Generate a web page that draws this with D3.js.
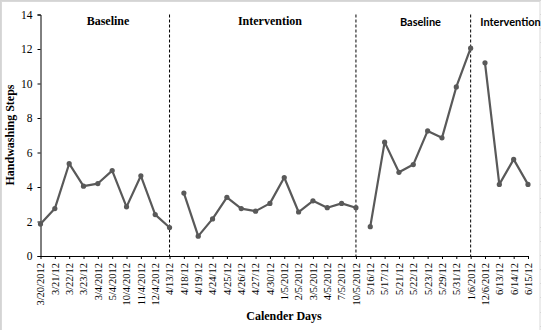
<!DOCTYPE html>
<html><head><meta charset="utf-8">
<script src="https://cdn.jsdelivr.net/npm/d3@7"></script>
<style>body{margin:0;background:#fff}svg{display:block}</style>
</head><body>
<svg id="c" width="541" height="330"></svg>
<script>
const categories = ["3/20/2012","3/21/12","3/22/12","3/23/12","3/4/2012","5/4/2012","10/4/2012","11/4/2012","12/4/2012","4/13/12",
  "4/18/12","4/19/12","4/24/12","4/25/12","4/26/12","4/27/12","4/30/12","1/5/2012","2/5/2012","3/5/2012","4/5/2012","7/5/2012","10/5/2012",
  "5/16/12","5/17/12","5/21/12","5/22/12","5/23/12","5/29/12","5/31/12","1/6/2012",
  "12/6/2012","6/13/12","6/14/12","6/15/12"];
const values = [1.85,2.75,5.35,4.05,4.2,4.95,2.85,4.65,2.4,1.65,
  3.65,1.15,2.15,3.4,2.75,2.6,3.05,4.55,2.55,3.2,2.8,3.05,2.8,
  1.7,6.6,4.85,5.3,7.25,6.85,9.8,12.05,
  11.2,4.15,5.6,4.15];
const phaseNames = ["Baseline","Intervention","Baseline","Intervention"];
const phaseStarts = ["3/20/2012","4/18/12","5/16/12","12/6/2012"];
const phaseEnds = ["4/13/12","10/5/2012","1/6/2012","6/15/12"];
const yTicks = [0,2,4,6,8,10,12,14];

const svg = d3.select("#c");
// spreadsheet grid behind chart
const grid = svg.append("g").attr("stroke","#d4d4d4").attr("stroke-width",1);
d3.range(0,12).forEach(k=>grid.append("line").attr("x1",k*45+0.5).attr("x2",k*45+0.5).attr("y1",0).attr("y2",330));
d3.range(0,25).forEach(k=>grid.append("line").attr("x1",0).attr("x2",541).attr("y1",Math.round(k*14.16)+0.5).attr("y2",Math.round(k*14.16)+0.5));
svg.append("rect").attr("x",1.5).attr("y",1.5).attr("width",538.5).attr("height",330).attr("fill","#fff").attr("stroke","#d9d9d9");

const x = d3.scalePoint().domain(categories).range([40.5,528]);
const y = d3.scaleLinear().domain([0,14]).range([256,14.5]);

const phaseOf = categories.map((c,i)=>{
  for(let p=0;p<phaseStarts.length;p++){
    const s=categories.indexOf(phaseStarts[p]), e=categories.indexOf(phaseEnds[p]);
    if(i>=s && i<=e) return p;
  }
  return -1;
});

const yAxis = d3.axisLeft(y).tickValues(yTicks).tickSize(3).tickPadding(5);
const gy = svg.append("g").attr("transform","translate(40.5,0)").call(yAxis);
gy.selectAll("text").attr("font-family","Liberation Serif, Times New Roman, serif").attr("font-size",11.5).attr("fill","#000");
gy.selectAll("path,line").attr("stroke","#000");

const xAxis = d3.axisBottom(x).tickSize(3).tickSizeOuter(0);
const gx = svg.append("g").attr("transform","translate(0,256)").call(xAxis);
gx.selectAll("path,line").attr("stroke","#000");
gx.selectAll("text").attr("font-family","Liberation Serif, Times New Roman, serif").attr("font-size",10.5).attr("fill","#000")
  .attr("transform","rotate(-90)").attr("text-anchor","end").attr("x",-7).attr("y",0).attr("dy","0.32em");

phaseEnds.slice(0,3).forEach(c=>{
  svg.append("line").attr("x1",x(c)).attr("x2",x(c)).attr("y1",y(14)).attr("y2",y(0))
    .attr("stroke","#000").attr("stroke-width",1).attr("stroke-dasharray","3,2");
});

const pts = categories.map((c,i)=>({c,v:values[i],p:phaseOf[i]}));
phaseNames.forEach((n,p)=>{
  const seg = pts.filter(d=>d.p===p);
  svg.append("path").datum(seg).attr("fill","none").attr("stroke","#595959").attr("stroke-width",2.2)
    .attr("stroke-linejoin","round")
    .attr("d",d3.line().x(d=>x(d.c)).y(d=>y(d.v)));
});
svg.selectAll("circle.pt").data(pts).enter().append("circle").attr("class","pt")
  .attr("cx",d=>x(d.c)).attr("cy",d=>y(d.v)).attr("r",2.6).attr("fill","#595959");

phaseNames.forEach((n,p)=>{
  const cx = (x(phaseStarts[p])+x(phaseEnds[p]))/2 + (p===0?3:(p===3?4:0));
  svg.append("text").attr("x",cx).attr("y",p<2?25:26).attr("text-anchor","middle")
    .attr("font-family",p<2?"Liberation Serif, serif":"Lato, Liberation Sans, sans-serif")
    .attr("font-weight","bold").attr("font-size",p<2?12:11).attr("fill","#000").text(n);
});

svg.append("text").attr("transform","translate(14,135) rotate(-90)").attr("text-anchor","middle")
  .attr("font-family","Liberation Serif, serif").attr("font-weight","bold").attr("font-size",12).text("Handwashing Steps");
svg.append("text").attr("x",284).attr("y",320).attr("text-anchor","middle")
  .attr("font-family","Liberation Serif, serif").attr("font-weight","bold").attr("font-size",12).text("Calender Days");
</script>
</body></html>
